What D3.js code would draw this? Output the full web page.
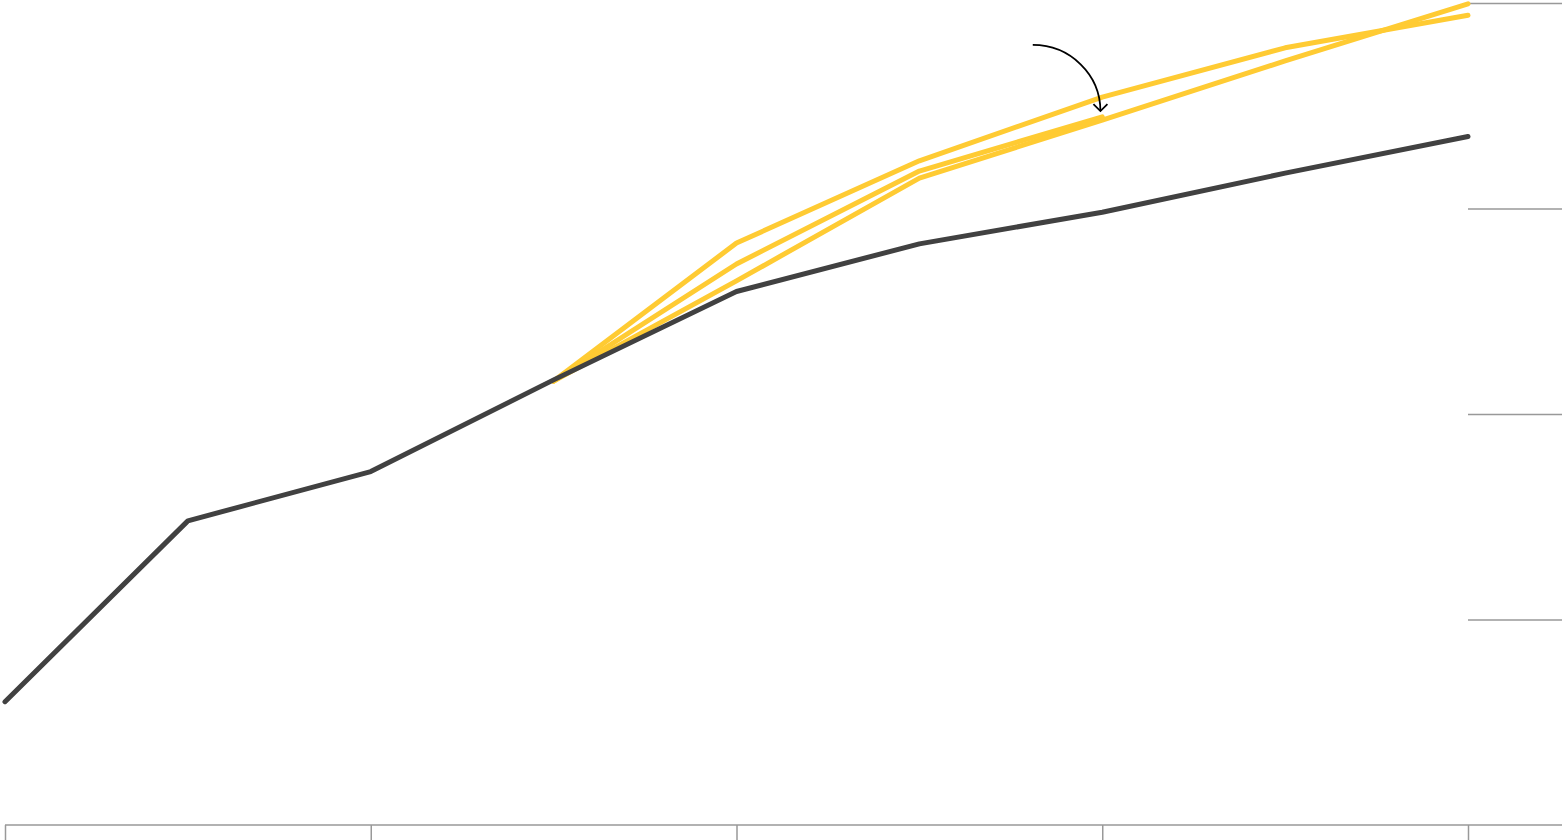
<!DOCTYPE html>
<html>
<head>
<meta charset="utf-8">
<script src="https://cdn.jsdelivr.net/npm/d3@7"></script>
<style>
  html, body { margin: 0; padding: 0; background: #fff; }
  svg { display: block; }
</style>
</head>
<body>
<svg id="chart" width="1562" height="840"></svg>
<script>
// ---- data ----
const periods = [0, 1, 2, 3, 4, 5, 6, 7, 8];
const xTicks = [0, 2, 4, 6, 8];
const yTicks = [5, 10, 15, 20];
const actual = [3.00, 7.40, 8.60, 10.83, 12.98, 14.14, 14.91, 15.86, 16.75];
const projectionA = [null, null, null, 10.80, 14.16, 16.16, 17.71, 18.91, 19.70];
const projectionB = [null, null, null, 10.80, 13.65, 15.91, 17.23, null, null];
const projectionC = [null, null, null, 10.80, 13.24, 15.74, 17.15, 18.59, 19.98];
const annotationStart = [5.62, 18.98];
const annotationEnd = [5.99, 17.37];

// ---- layout ----
const W = 1562, H = 840;
const svg = d3.select("#chart");
const x = d3.scaleLinear().domain([0, 8]).range([5, 1468]);
const y = d3.scaleLinear().domain([0, 20]).range([825, 3]);

// right-side gridline ticks
const yAxis = d3.axisRight(y).tickValues(yTicks).tickSize(W - x(8)).tickFormat("");
svg.append("g")
  .attr("transform", `translate(${x(8)},0)`)
  .call(yAxis)
  .call(g => g.select(".domain").remove())
  .call(g => g.selectAll(".tick line").attr("stroke", "#999").attr("stroke-width", 1.5));

// bottom axis
svg.append("line")
  .attr("x1", x(0)).attr("x2", W)
  .attr("y1", y(0)).attr("y2", y(0))
  .attr("stroke", "#999").attr("stroke-width", 1.5);
const xAxis = d3.axisBottom(x).tickValues(xTicks).tickSize(H - y(0)).tickFormat("");
svg.append("g")
  .attr("transform", `translate(0,${y(0)})`)
  .call(xAxis)
  .call(g => g.select(".domain").remove())
  .call(g => g.selectAll(".tick line").attr("stroke", "#999").attr("stroke-width", 1.5));

const line = d3.line()
  .defined(d => d[1] != null)
  .x(d => x(d[0]))
  .y(d => y(d[1]));

const series = (vals) => periods.map((p, i) => [p, vals[i]]);

// projections (yellow)
[projectionA, projectionB, projectionC].forEach(vals => {
  svg.append("path")
    .datum(series(vals))
    .attr("d", line)
    .attr("fill", "none")
    .attr("stroke", "#ffcb33")
    .attr("stroke-width", 5)
    .attr("stroke-linecap", "round")
    .attr("stroke-linejoin", "round");
});

// actual (dark)
svg.append("path")
  .datum(series(actual))
  .attr("d", line)
  .attr("fill", "none")
  .attr("stroke", "#414141")
  .attr("stroke-width", 5)
  .attr("stroke-linecap", "round")
  .attr("stroke-linejoin", "round");

// annotation arrow
const sx = x(annotationStart[0]), sy = y(annotationStart[1]);
const ex = x(annotationEnd[0]), ey = y(annotationEnd[1]);
const rx = ex - sx, ry = ey - sy;
svg.append("path")
  .attr("d", `M${sx},${sy} A${rx},${ry} 0 0 1 ${ex},${ey}`)
  .attr("fill", "none")
  .attr("stroke", "#000")
  .attr("stroke-width", 1.8);
svg.append("path")
  .attr("d", `M${ex - 7},${ey - 7} L${ex},${ey} L${ex + 7},${ey - 7}`)
  .attr("fill", "none")
  .attr("stroke", "#000")
  .attr("stroke-width", 1.8);
</script>
</body>
</html>
